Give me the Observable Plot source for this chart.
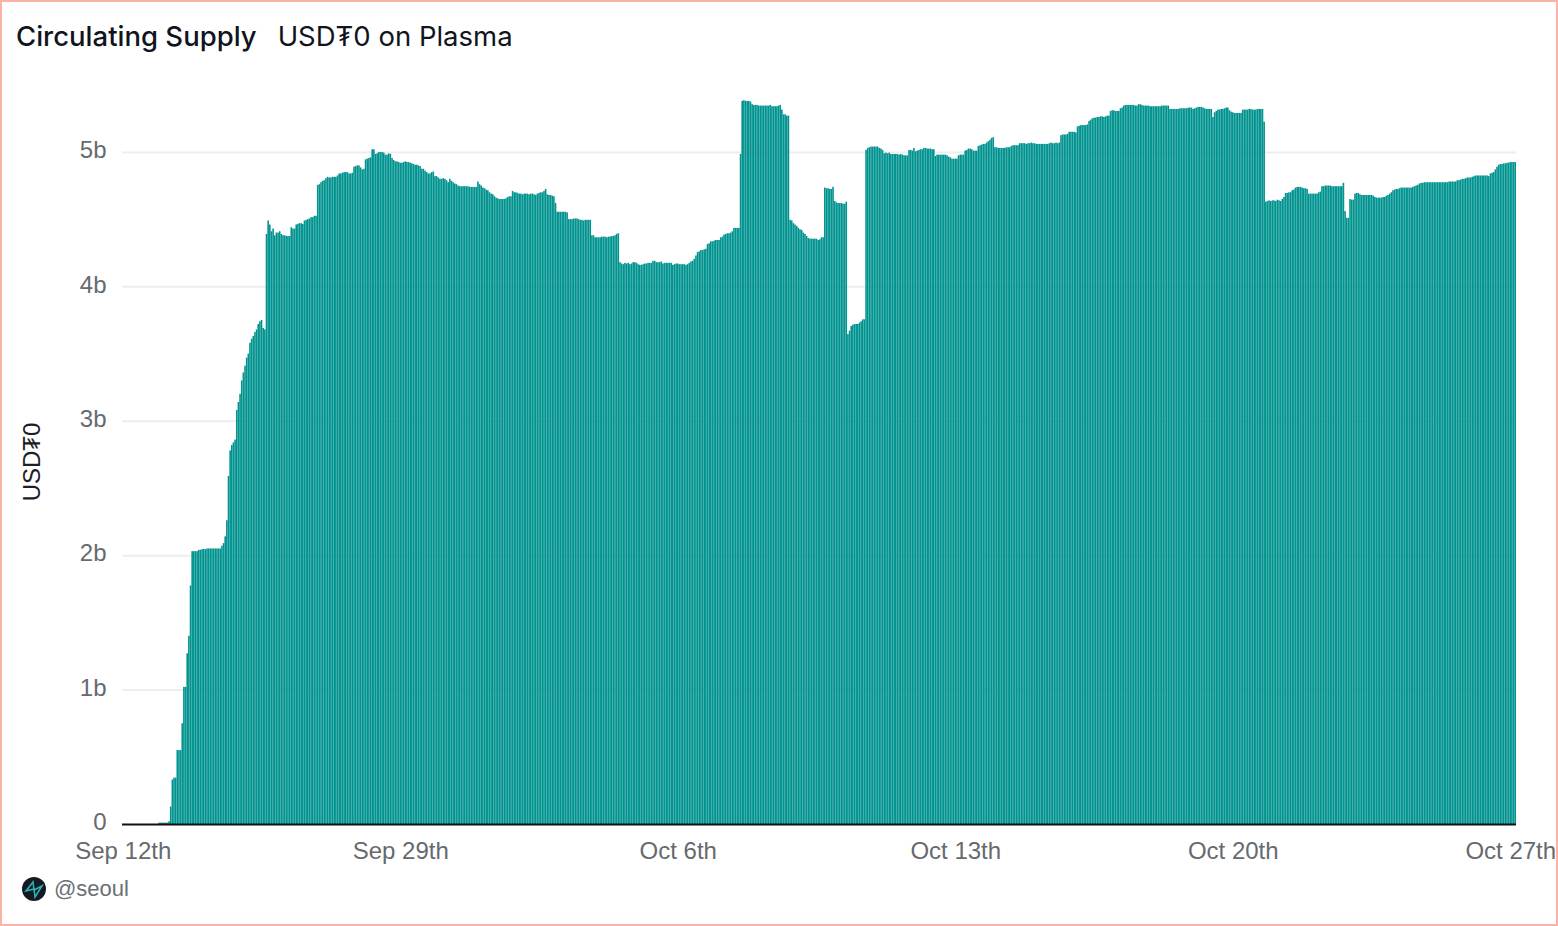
<!DOCTYPE html>
<html>
<head>
<meta charset="utf-8">
<script src="https://cdn.jsdelivr.net/npm/d3@7"></script>
<script src="https://cdn.jsdelivr.net/npm/@observablehq/plot@0.6"></script>
<style>
html,body{margin:0;padding:0;background:#fff;}
#frame{position:relative;width:1558px;height:926px;box-sizing:border-box;border:2px solid #fdb2a6;overflow:hidden;}
#title{position:absolute;left:14px;top:17px;font-family:Inter,sans-serif;font-size:27.5px;line-height:34px;color:#11141d;white-space:nowrap;}
#title b{font-weight:500;margin-right:21px;}
#title span{font-weight:400;}
#chart{position:absolute;left:-2px;top:68px;width:1558px;}
#chart svg{overflow:visible;display:block;max-width:none;}
#credit{position:absolute;left:20px;top:874px;display:flex;align-items:center;font-family:"Liberation Sans",Arial,sans-serif;font-size:22px;color:#6b7075;}
#credit svg{margin-right:8px;}
g[aria-label="y-axis label"]{fill:#1c2026;transform:translate(-99px,4px);}
</style>
</head>
<body>
<div id="frame">
  <div id="title"><b>Circulating Supply</b><span>USD₮0 on Plasma</span></div>
  <div id="chart"></div>
  <div id="credit"><svg width="24" height="24" viewBox="0 0 24 24"><circle cx="12" cy="12" r="12" fill="#141a24"/><path d="M4 14 L11 5 L12 13 L20 9 L13 20 L12 12 Z" fill="none" stroke="#2cb5b0" stroke-width="1.5"/></svg>@seoul</div>
</div>
<script>
// Hourly circulating supply, in billions of USD₮0
const supplyRamp = [
0,0,0,0,0,0,0,0,0,0,
0,0,0,0,0,0,0,0,0,0,
0,0,.01,.01,.01,.01,.01,.01,.02,.13,
.33,.345,.345,.55,.55,.55,.75,1.02,1.02,1.27,
1.40,1.775,2.03,2.03,2.03,2.03,2.04,2.04,2.045,2.045,
2.045,2.05,2.05,2.05,2.05,2.05,2.05,2.05,2.05,2.05,
2.07,2.09,2.14,2.26,2.59,2.78,2.82,2.84,2.86,3.08,
3.14,3.2,3.3,3.36,3.41,3.47,3.5,3.58,3.61,3.63,
3.66,3.68,3.72,3.74,3.75,3.69,3.68,4.39,4.49,4.46,
4.41,4.43,4.38,4.40,4.40,4.41,4.39,4.38,4.38,4.375];
const supplySeptember = [
4.375,4.375,4.44,4.43,4.43,4.46,4.465,4.47,4.47,4.465,
4.49,4.495,4.5,4.505,4.515,4.515,4.525,4.525,4.755,4.76,
4.775,4.785,4.79,4.805,4.815,4.81,4.81,4.815,4.815,4.815,
4.825,4.84,4.84,4.845,4.85,4.85,4.85,4.84,4.84,4.845,
4.89,4.895,4.9,4.9,4.885,4.87,4.875,4.945,4.95,4.955,
4.96,5.02,5.02,4.985,4.99,5.0,5.0,5.0,4.995,4.98,
4.98,4.99,4.985,4.955,4.94,4.93,4.93,4.925,4.92,4.92,
4.925,4.93,4.925,4.925,4.92,4.915,4.91,4.905,4.905,4.90,
4.895,4.875,4.875,4.86,4.85,4.84,4.84,4.85,4.855,4.82,
4.82,4.81,4.80,4.80,4.805,4.80,4.79,4.775,4.8,4.785];
const supplyDecline = [
4.775,4.765,4.76,4.75,4.745,4.745,4.745,4.745,4.745,4.745,
4.74,4.74,4.74,4.74,4.74,4.78,4.76,4.75,4.735,4.73,
4.72,4.715,4.70,4.69,4.685,4.67,4.66,4.655,4.65,4.65,
4.65,4.65,4.655,4.665,4.67,4.67,4.71,4.70,4.70,4.695,
4.69,4.69,4.685,4.69,4.69,4.69,4.685,4.69,4.69,4.685,
4.68,4.69,4.695,4.70,4.70,4.71,4.725,4.685,4.68,4.68,
4.675,4.67,4.62,4.555,4.555,4.555,4.555,4.555,4.555,4.55,
4.50,4.50,4.50,4.505,4.505,4.505,4.50,4.495,4.495,4.49,
4.495,4.495,4.495,4.495,4.38,4.38,4.365,4.365,4.365,
4.365,4.37,4.37,4.37,4.365,4.37,4.37,4.375,4.375,4.38];
const supplyOctoberEarly = [
4.39,4.395,4.18,4.17,4.165,4.175,4.17,4.175,4.165,4.17,
4.18,4.18,4.175,4.165,4.16,4.16,4.165,4.17,4.17,4.175,
4.175,4.175,4.19,4.19,4.18,4.18,4.18,4.185,4.17,4.175,
4.175,4.175,4.175,4.175,4.16,4.165,4.17,4.17,4.165,4.165,
4.165,4.165,4.16,4.165,4.175,4.185,4.19,4.205,4.23,4.255,
4.26,4.27,4.27,4.275,4.28,4.315,4.32,4.335,4.335,4.34,
4.345,4.345,4.345,4.365,4.37,4.385,4.39,4.395,4.395,4.40,
4.41,4.435,4.435,4.435,4.435,4.985,5.38,5.385,5.38,5.38,
5.38,5.375,5.355,5.35,5.35,5.35,5.345,5.345,5.345,5.345,
5.345,5.345,5.345,5.35,5.34,5.34,5.34,5.34,5.345,5.35];
const supplySwings = [
5.315,5.28,5.28,5.27,5.27,4.495,4.49,4.47,4.46,4.45,
4.435,4.425,4.42,4.40,4.39,4.375,4.36,4.355,4.355,4.355,
4.355,4.355,4.345,4.35,4.365,4.365,4.735,4.73,4.73,4.725,
4.725,4.74,4.635,4.625,4.62,4.62,4.62,4.615,4.615,4.63,
3.645,3.67,3.705,3.715,3.72,3.72,3.72,3.73,3.74,3.755,
3.755,5.015,5.03,5.035,5.04,5.04,5.04,5.04,5.04,5.03,
5.025,5.015,4.99,4.995,4.99,4.995,4.985,4.985,4.985,4.985,
4.985,4.98,4.985,4.98,4.975,4.975,4.975,5.015,5.015,5.01,
5.03,5.005,5.01,5.015,5.02,5.02,5.03,5.03,5.025,5.025,
5.025,5.02,5.02,4.97,4.98,4.98,4.98,4.98,4.98,4.98];
const supplyPlateau = [
4.975,4.965,4.96,4.95,4.95,4.95,4.95,4.975,4.98,4.98,
4.98,5.01,5.015,5.025,5.025,5.02,5.01,5.01,5.01,5.045,
5.05,5.055,5.06,5.06,5.07,5.08,5.09,5.105,5.11,5.035,
5.035,5.03,5.03,5.03,5.03,5.03,5.035,5.035,5.035,5.045,
5.05,5.05,5.05,5.05,5.065,5.065,5.065,5.065,5.06,5.065,
5.065,5.07,5.065,5.065,5.06,5.06,5.06,5.06,5.06,5.06,
5.06,5.06,5.065,5.07,5.065,5.065,5.07,5.065,5.07,5.125,
5.13,5.13,5.13,5.135,5.15,5.15,5.15,5.15,5.145,5.19,
5.195,5.2,5.2,5.2,5.2,5.205,5.23,5.24,5.25,5.255,
5.255,5.26,5.26,5.265,5.265,5.26,5.265,5.27,5.27,5.305,
5.31,5.31,5.305,5.305,5.305,5.325,5.33,5.345,5.35,5.35,
5.35,5.35,5.35,5.35,5.345,5.345,5.355,5.355,5.35,5.345,
5.345,5.345,5.345,5.34,5.34,5.34,5.34,5.34,5.34,5.34,
5.345,5.345,5.345,5.345,5.345,5.32,5.32,5.32,5.32,5.32,
5.32,5.325,5.325,5.325,5.325,5.325,5.33,5.33,5.33,5.32,
5.325,5.33,5.335,5.335,5.335,5.33,5.325,5.32,5.32,5.32,
5.32,5.26,5.295,5.305,5.315,5.315,5.32,5.32,5.325,5.33,
5.33,5.31,5.30,5.295,5.29,5.29,5.29,5.29,5.29,5.315,
5.315,5.315,5.315,5.32,5.32,5.315,5.315,5.315,5.32];
const supplyLate = [
5.32,5.32,5.32,5.225,4.63,4.635,4.64,4.635,4.64,4.64,
4.635,4.645,4.64,4.635,4.65,4.665,4.695,4.695,4.70,4.70,
4.715,4.72,4.735,4.74,4.74,4.74,4.735,4.73,4.73,4.725,
4.69,4.69,4.69,4.69,4.69,4.69,4.70,4.705,4.745,4.745,
4.75,4.75,4.75,4.75,4.745,4.745,4.745,4.745,4.745,4.745,
4.745,4.77,4.56,4.51,4.51,4.65,4.645,4.645,4.69,4.695,
4.695,4.685,4.68,4.68,4.68,4.68,4.68,4.68,4.68,4.675,
4.665,4.66,4.66,4.66,4.66,4.665,4.665,4.675,4.68,4.69,
4.70,4.715,4.72,4.725,4.725,4.73,4.735,4.735,4.735,4.735,
4.735,4.735,4.735,4.74,4.745,4.75,4.755,4.765,4.77,4.77,
4.775,4.775,4.775,4.775,4.775,4.775,4.775,4.775,4.775,4.775,
4.775,4.775,4.775,4.775,4.775,4.78,4.78,4.78,4.78,4.78,
4.79,4.79,4.795,4.80,4.80,4.805,4.81,4.81,4.81,4.815,
4.82,4.825,4.825,4.825,4.825,4.825,4.825,4.825,4.825,4.82,
4.84,4.845,4.85,4.87,4.89,4.905,4.91,4.91,4.915,4.915,
4.92,4.92,4.925,4.925,4.925,4.925];

const supply = [...supplyRamp, ...supplySeptember, ...supplyDecline, ...supplyOctoberEarly,
                ...supplySwings, ...supplyPlateau, ...supplyLate];
const hours = supply.map((_, i) => i);

const dateTickHours = [0, 168, 336, 504, 672, 840];
const dateTickLabels = ["Sep 12th", "Sep 29th", "Oct 6th", "Oct 13th", "Oct 20th", "Oct 27th"];
const valueTicks = [0, 1, 2, 3, 4, 5];
const valueTickLabels = ["0", "1b", "2b", "3b", "4b", "5b"];

const rows = hours.map(h => ({hour: h, value: supply[h]}));

const chart = Plot.plot({
  width: 1558,
  height: 800,
  marginLeft: 122,
  marginRight: 42,
  marginTop: 22,
  marginBottom: 46,
  style: {background: "transparent", overflow: "visible"},
  x: {type: "band", domain: hours, round: false, paddingInner: 0.04, paddingOuter: 0, align: 0},
  y: {domain: [0, 5.446], nice: false},
  marks: [
    Plot.ruleY(valueTicks.slice(1), {stroke: "#eeeeee", strokeWidth: 2}),
    Plot.barY(rows, {x: "hour", y: "value", fill: "#00938f"}),
    Plot.ruleY([0], {stroke: "#111111", strokeWidth: 2}),
    Plot.axisY({
      ticks: valueTicks,
      tickFormat: v => valueTickLabels[valueTicks.indexOf(v)],
      tickSize: 0, tickPadding: 16, dy: -2,
      fontSize: 24, fontFamily: "Liberation Sans, Arial, sans-serif", color: "#666a6e",
      label: "USD₮0", labelAnchor: "center", labelArrow: "none", labelOffset: 99
    }),
    Plot.axisX({
      ticks: dateTickHours,
      tickFormat: v => dateTickLabels[dateTickHours.indexOf(v)],
      tickSize: 0, tickPadding: 17,
      fontSize: 24, fontFamily: "Liberation Sans, Arial, sans-serif", color: "#666a6e",
      label: null
    })
  ]
});
document.getElementById("chart").appendChild(chart);
</script>
</body>
</html>
